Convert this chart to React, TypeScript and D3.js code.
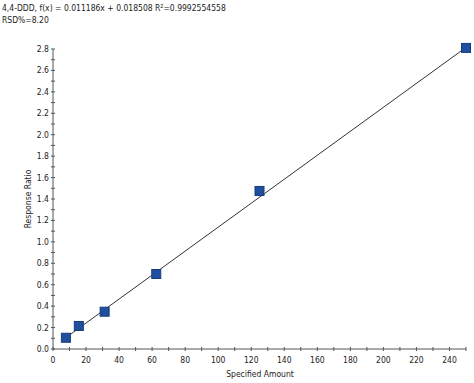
import React from "react";
import * as d3 from "d3";

const amounts = [7.8125, 15.625, 31.25, 62.5, 125, 250];
const ratios = [0.105, 0.215, 0.348, 0.7, 1.475, 2.81];
const slope = 0.011186;
const intercept = 0.018508;
const titleLine1 = "4,4-DDD, f(x) = 0.011186x + 0.018508 R\u00B2=0.9992554558";
const titleLine2 = "RSD%=8.20";
const xLabel = "Specified Amount";
const yLabel = "Response Ratio";
const xTicksMajor = d3.range(0, 241, 20);
const xTicksMinor = d3.range(0, 251, 10);
const yTicksMajor = d3.range(0, 2.81, 0.2);
const yTicksMinor = d3.range(0, 2.81, 0.1);

const W = 474, H = 383;
const FONT = "'DejaVu Sans Condensed', 'DejaVu Sans', sans-serif";
const FS = 8.5;

export default function App() {
  const x = d3.scaleLinear().domain([0, 250]).range([53, 466]);
  const y = d3.scaleLinear().domain([0, 2.8]).range([349, 49]);
  const lineGen = d3.line<number>().x(d => x(d)).y(d => y(slope * d + intercept));
  const lineX = [amounts[0], amounts[amounts.length - 1]];
  return (
    <svg width={W} height={H} style={{ position: "absolute", left: 0, top: 0, background: "#fff" }} fontFamily={FONT}>
      <text x={2} y={11} fontSize={FS} fill="#222">{titleLine1}</text>
      <text x={2} y={23} fontSize={FS} fill="#222">{titleLine2}</text>
      <line x1={x(0)} x2={x(250)} y1={y(0)} y2={y(0)} stroke="#555" strokeWidth={1} />
      <line x1={x(0)} x2={x(0)} y1={y(0)} y2={y(2.8)} stroke="#555" strokeWidth={1} />
      {xTicksMinor.map(t => (
        <line key={"xm" + t} x1={x(t)} x2={x(t)} y1={y(0) - 2} y2={y(0) + 2} stroke="#555" />
      ))}
      {yTicksMinor.map(t => (
        <line key={"ym" + t} x1={x(0) - 2} x2={x(0) + 2} y1={y(t)} y2={y(t)} stroke="#555" />
      ))}
      {xTicksMajor.map(t => (
        <text key={"xl" + t} x={x(t)} y={y(0) + 14} fontSize={FS} textAnchor="middle" fill="#222">{t}</text>
      ))}
      {yTicksMajor.map(t => (
        <text key={"yl" + t} x={x(0) - 4} y={y(t) + 3} fontSize={FS} textAnchor="end" fill="#222">{t.toFixed(1)}</text>
      ))}
      <text x={260} y={377} fontSize={FS} textAnchor="middle" fill="#222">{xLabel}</text>
      <text transform={`translate(31,${y(1.4)}) rotate(-90)`} fontSize={FS} textAnchor="middle" fill="#222">{yLabel}</text>
      <path d={lineGen(lineX) || ""} stroke="#333" strokeWidth={1} fill="none" />
      {amounts.map((a, i) => (
        <rect key={"p" + i} x={x(a) - 4.5} y={y(ratios[i]) - 4.5} width={9} height={9} fill="#1f4f9e" stroke="#173c7a" strokeWidth={1} />
      ))}
    </svg>
  );
}
